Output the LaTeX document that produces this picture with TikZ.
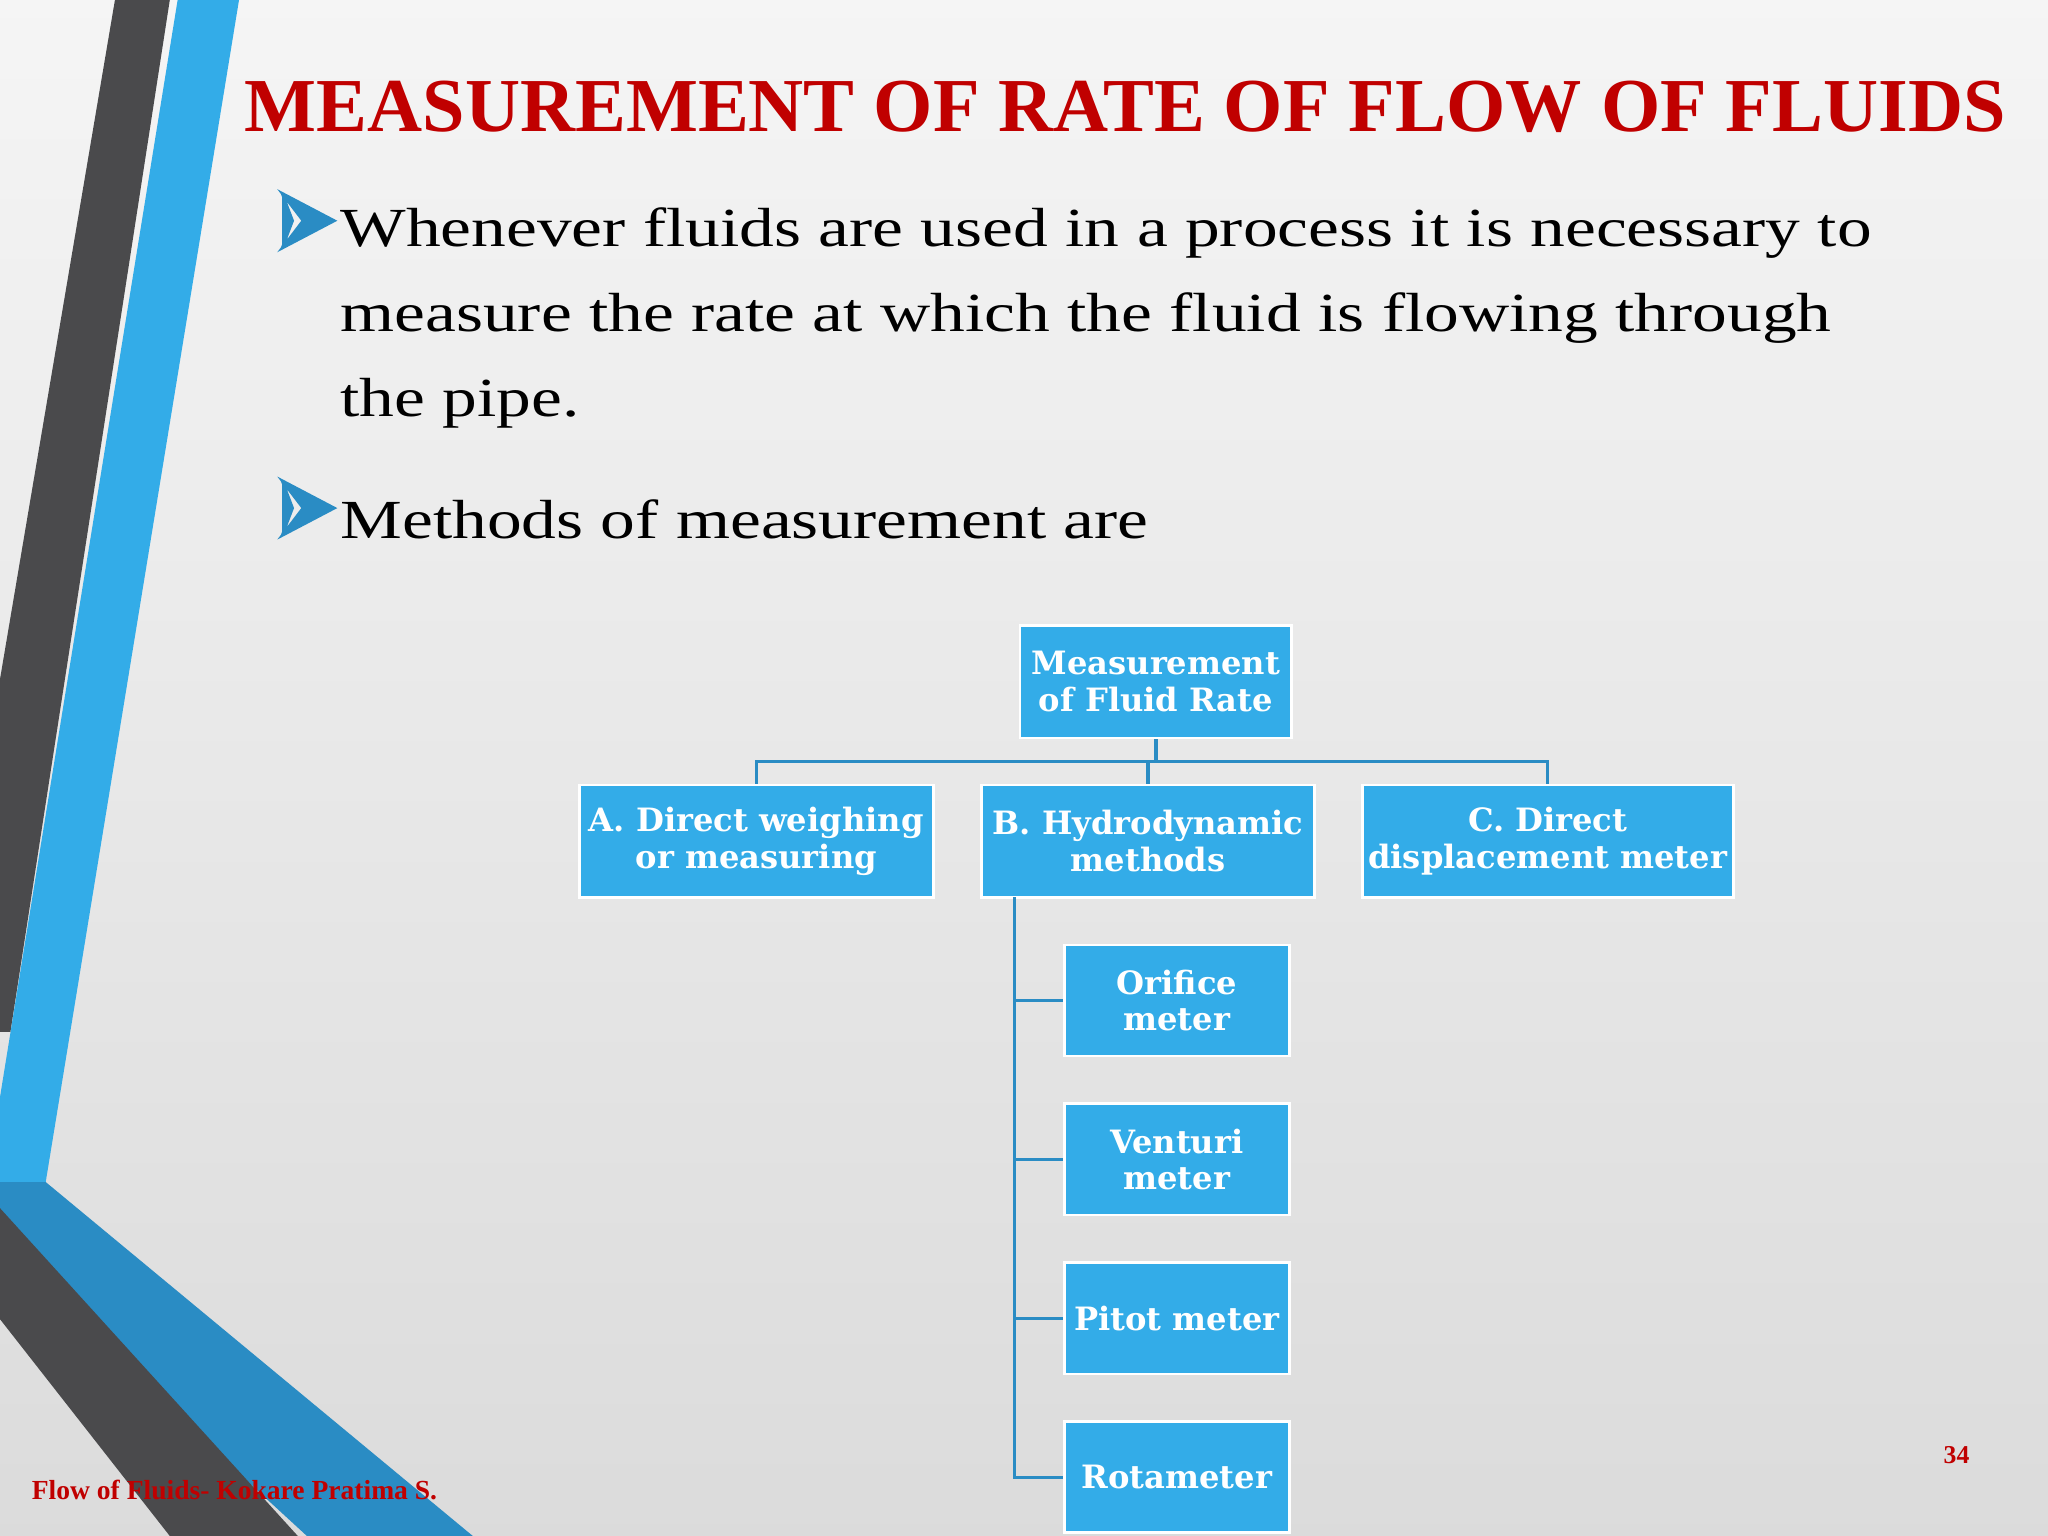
\documentclass[tikz,border=0pt]{standalone}
\usepackage{fontspec}
\setmainfont{Liberation Serif}
\newfontfamily\boxfont{DejaVu Serif}
\newfontfamily\bodyfont[FakeStretch=1.26]{Liberation Serif}
\usetikzlibrary{shapes,arrows,positioning}
\definecolor{boxblue}{HTML}{33ACE8}
\definecolor{lineblue}{HTML}{2A8CC4}
\definecolor{darkstripe}{HTML}{4A4A4C}
\definecolor{titlered}{HTML}{C00000}
\begin{document}
\begin{tikzpicture}[x=0.01cm,y=-0.01cm]
            % Estilos
            \tikzstyle{box}=[draw=white, line width=0.6pt, rectangle, fill=boxblue, text=white, align=center, font=\boxfont\bfseries\fontsize{7}{8}\selectfont, inner sep=1pt]
            \tikzstyle{topbox}=[box, minimum height=0.86cm]
            \tikzstyle{subbox}=[box, minimum height=0.85cm, minimum width=1.72cm]
            \tikzstyle{link}=[draw=lineblue, line width=0.7pt]
            \tikzstyle{bullet}=[fill=lineblue, draw=lineblue, line width=0.6pt]

            % Fondo
            \shade[top color=gray!8, bottom color=gray!28] (0,0) rectangle (1568,1176);
            \useasboundingbox (0,0) rectangle (1568,1176);
            \fill[darkstripe] (88,0) -- (130,0) -- (8,790) -- (0,790) -- (0,520) -- cycle;
            \fill[boxblue] (136,0) -- (183,0) -- (35,905) -- (0,905) -- (0,840) -- cycle;
            \fill[lineblue] (0,905) -- (35,905) -- (362,1176) -- (235,1176) -- (0,960) -- cycle;
            \fill[darkstripe] (0,925) -- (228,1176) -- (130,1176) -- (0,1010) -- cycle;

            % Textos
            \node[text=titlered, font=\bfseries\fontsize{16.6}{18}\selectfont, anchor=east] (title) at (1548,82) {MEASUREMENT OF RATE OF FLOW OF FLUIDS};
            \foreach \y in {148,368}
                \draw[bullet] (216,\y) -- (256,\y+21) -- (216,\y+42) -- (232,\y+21) -- cycle
                              (216,\y) -- (224,\y+21) -- (216,\y+42);
            \node[anchor=north west, align=left, font=\bodyfont\fontsize{12}{18.6}\selectfont, inner sep=0pt] (para) at (260,158) {Whenever fluids are used in a process it is necessary to\\measure the rate at which the fluid is flowing through\\the pipe.};
            \node[anchor=west, font=\bodyfont\fontsize{12}{14}\selectfont, inner sep=0pt] (methods) at (260,398) {Methods of measurement are};
            \node[text=titlered, font=\bfseries\fontsize{6}{7}\selectfont, anchor=west] (footer) at (12,1141) {Flow of Fluids- Kokare Pratima S.};
            \node[text=titlered, font=\bfseries\fontsize{5.6}{6}\selectfont] (page) at (1498,1114) {34};

            % Nodos
            \node[topbox, minimum width=2.08cm] (root) at (885,522) {Measurement\\of Fluid Rate};
            \node[topbox, minimum width=2.71cm] (direct) at (579,644) {A. Direct weighing\\or measuring};
            \node[topbox, minimum width=2.55cm] (hydro) at (879,644) {B. Hydrodynamic\\methods};
            \node[topbox, minimum width=2.84cm] (displ) at (1185,644) {C. Direct\\displacement meter};
            \node[subbox] (orifice) at (901,766) {Orifice\\meter};
            \node[subbox, below=0.345cm of orifice] (venturi) {Venturi\\meter};
            \node[subbox, below=0.345cm of venturi] (pitot) {Pitot meter};
            \node[subbox, below=0.345cm of pitot] (rota) {Rotameter};

            % Lineas
            \coordinate (split) at (885,583);
            \coordinate (trunk) at (777,687);
            \draw[link] (root.south) -- (split);
            \draw[link] (direct.north) |- (split) -| (displ.north);
            \draw[link] (hydro.north) -- (hydro.north |- split);
            \draw[link] (trunk) |- (rota.west);
            \foreach \sub in {orifice,venturi,pitot}
                \draw[link] (trunk |- \sub.west) -- (\sub.west);
\end{tikzpicture}
\end{document}
